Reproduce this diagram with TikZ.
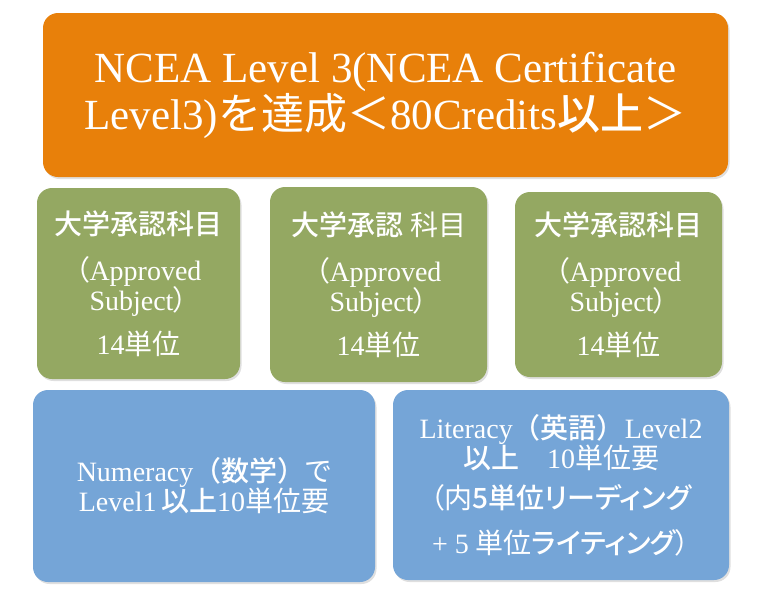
\documentclass[tikz,border=0pt]{standalone}
\usepackage{fontspec}
\usetikzlibrary{shadows}
\setmainfont{Liberation Serif}
\newfontfamily\jpw{Noto Sans CJK JP}[BoldFont={Noto Sans CJK JP Medium}]
\newfontfamily\jp{Noto Sans CJK JP}[RawFeature=+palt, BoldFont={Noto Sans CJK JP Medium}]
\newcommand{\jr}[1]{{\jp #1}}
\newcommand{\jb}[1]{{\jp\bfseries #1}}
\newcommand{\jwb}[1]{{\jpw\bfseries #1}}
\definecolor{nceaorange}{RGB}{232,128,10}
\definecolor{subjgreen}{RGB}{148,168,98}
\definecolor{litblue}{RGB}{117,165,215}

\begin{document}
\begin{tikzpicture}[x=1pt,y=-1pt,
		every node/.style = {shape=rectangle, rounded corners=15pt,
			align=center, text=white, inner sep=0pt,
			drop shadow={opacity=0.25,shadow xshift=1.5pt,shadow yshift=-2pt}},
		goal/.style = {fill=nceaorange, minimum width=685pt, minimum height=164pt,
			font=\fontsize{43}{46}\selectfont},
		subject/.style = {fill=subjgreen, font=\fontsize{28}{30}\selectfont},
		skill/.style = {fill=litblue, font=\fontsize{28}{30}\selectfont}]
	\useasboundingbox (0,0) rectangle (768,598);
	\node[goal] (ncea) at (385.5,95)
		{NCEA Level 3(NCEA Certificate\\[1pt]Level3){\jpw を達成＜}80Credits\jb{以上}{\jpw ＞}};
	\node[subject, minimum width=203pt, minimum height=191pt] (subj1) at (138.5,283.5)
		{\jb{大学承認科目}\\[16pt]\jr{（}Approved\\Subject\jr{）}\\[14pt]14\jr{単位}};
	\node[subject, minimum width=217pt, minimum height=195pt] (subj2) at (378.5,284.5)
		{\jb{大学承認} \jr{科目}\\[16pt]\jr{（}Approved\\Subject\jr{）}\\[14pt]14\jr{単位}};
	\node[subject, minimum width=207pt, minimum height=185pt] (subj3) at (618.5,284.5)
		{\jb{大学承認科目}\\[16pt]\jr{（}Approved\\Subject\jr{）}\\[14pt]14\jr{単位}};
	\node[skill, minimum width=342pt, minimum height=192pt] (numer) at (204,486)
		{Numeracy\jwb{（数学）}\jr{で}\\Level1\,\jb{以上}10\jr{単位要}};
	\node[skill, minimum width=336pt, minimum height=190pt] (liter) at (561,485)
		{Literacy\jwb{（英語）}Level2\\\jb{以上}\jr{　}10\jr{単位要}\\[10pt]
		\jr{（内}\jb{5単位リーディング}\\[15pt]+ 5 \jr{単位}\jb{ライティング}\jr{）}};
\end{tikzpicture}
\end{document}
